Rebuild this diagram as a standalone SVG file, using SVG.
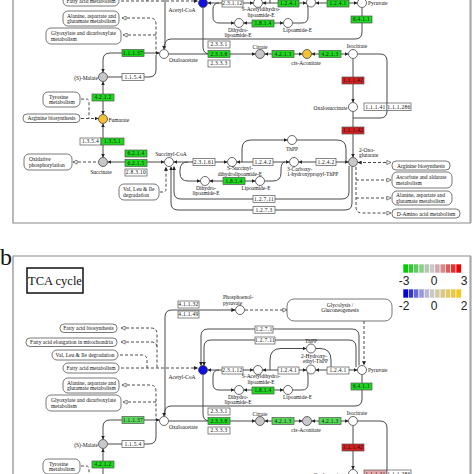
<svg xmlns="http://www.w3.org/2000/svg" width="474" height="474" viewBox="0 0 474 474">
<style>
.ln{fill:none;stroke:#4a4a4a;stroke-width:1}
.ds{fill:none;stroke:#4a4a4a;stroke-width:1;stroke-dasharray:3 2}
.c{stroke:#444;stroke-width:.8;fill:#fff}
.cg{fill:#c8c8c8}
.bx{stroke:#555;stroke-width:.7;fill:#fff}
.gr{fill:#1ed81e}
.rd{fill:#d42020}
.mp{fill:#fff;stroke:#555;stroke-width:.8}
.t{font-family:"Liberation Serif","DejaVu Serif",serif;font-size:5.5px;fill:#111}
.e{font-family:"Liberation Serif","DejaVu Serif",serif;font-size:5.5px;fill:#111;text-anchor:middle;letter-spacing:.3px}
.m{text-anchor:middle}
.r{text-anchor:end}
.lg{font-family:"Liberation Sans","DejaVu Sans",sans-serif;font-size:12px;fill:#222;text-anchor:middle}
</style>
<defs>
<marker id="ah" viewBox="0 0 6 6" refX="5.5" refY="3" markerWidth="4" markerHeight="4" markerUnits="userSpaceOnUse" orient="auto-start-reverse"><path d="M0,0L6,3L0,6z" fill="#222"/></marker>
<marker id="oh" viewBox="0 0 6 6" refX="5.5" refY="3" markerWidth="5" markerHeight="5" markerUnits="userSpaceOnUse" orient="auto-start-reverse"><path d="M0.5,0.5L5.5,3L0.5,5.5z" fill="#fff" stroke="#444" stroke-width=".8"/></marker>
<clipPath id="clipA"><rect x="13" y="0" width="458" height="223"/></clipPath>
<clipPath id="clipB"><rect x="13" y="256" width="458" height="218"/></clipPath>
<g id="pathway">
<g id="connectors">
<path class="ln" d="M165,415.5V317Q165,310 172,310H235" marker-end="url(#ah)"/>
<path class="ds" d="M245,310H287" marker-end="url(#oh)"/>
<path class="ds" d="M364,321V365" marker-end="url(#ah)"/>
<path class="ln" d="M359,365.5V336Q359,329 352,329H208Q201,329 201,336V365.5" marker-end="url(#ah)"/>
<path class="ln" d="M356,367V347Q356,340 349,340H211Q204,340 204,347V365.5" marker-end="url(#ah)"/>
<path class="ds" d="M121,328H151Q157,328 157,334V368" marker-start="url(#oh)"/>
<path class="ds" d="M121,342H151Q157,342 157,348" marker-start="url(#oh)"/>
<path class="ds" d="M120,355H142Q147,355 147,360V368"/>
<path class="ds" d="M121,368H197.5" marker-end="url(#ah)"/>
<path class="ds" d="M122,385H150Q156,385 156,391V420" marker-start="url(#oh)"/>
<path class="ds" d="M123,402H156" marker-start="url(#oh)"/>
<path class="ln" d="M103,439.2V427Q103,420 110,420H159.3" marker-start="url(#ah)" marker-end="url(#ah)"/>
<path class="ln" d="M107.8,444H149Q156,444 156,437V422"/>
<path class="ln" d="M103,448.8V481.2" marker-start="url(#ah)" marker-end="url(#ah)"/>
<path class="ln" d="M103,490.8V524.2" marker-start="url(#ah)" marker-end="url(#ah)"/>
<path class="ln" d="M107.8,529H164.2" marker-start="url(#ah)" marker-end="url(#ah)"/>
<path class="ln" d="M169,421H255.2" marker-end="url(#ah)"/>
<path class="ln" d="M203,374.8V414Q203,421 210,421"/>
<path class="ln" d="M264.8,421H302.2" marker-start="url(#ah)" marker-end="url(#ah)"/>
<path class="ln" d="M311.8,421H348.2" marker-start="url(#ah)" marker-end="url(#ah)"/>
<path class="ln" d="M362,374.8V399Q362,406 355,406H171Q164,406 164,416.2" marker-end="url(#ah)"/>
<path class="ln" d="M353,425.8V469.2" marker-end="url(#ah)"/>
<path class="ln" d="M353,478.8V524.2" marker-end="url(#ah)"/>
<path class="ln" d="M357.8,421H380Q387,421 387,428V478Q387,485 380,485H353"/>
<path class="ln" d="M349,533V559Q349,566 342,566H181Q174,566 174,559V533.5" marker-end="url(#ah)"/>
<path class="ln" d="M352,533.8V570Q352,577 345,577H178Q171,577 171,570V533.8" marker-end="url(#ah)"/>
<path class="ds" d="M358,529.5H391" marker-start="url(#ah)" marker-end="url(#oh)"/>
<path class="ds" d="M356,534V574Q356,580 362,580H391" marker-end="url(#oh)"/>
<path class="ds" d="M356,547H391" marker-end="url(#oh)"/>
<path class="ds" d="M356,565H391" marker-end="url(#oh)"/>
<path class="ln" d="M173.8,529H227.2" marker-start="url(#ah)" marker-end="url(#ah)"/>
<path class="ln" d="M236.8,529H289.2" marker-start="url(#ah)" marker-end="url(#ah)"/>
<path class="ln" d="M298.8,529H348.2" marker-start="url(#ah)" marker-end="url(#ah)"/>
<path class="ln" d="M242,529V516Q242,507 251,507H287.2" marker-end="url(#ah)"/>
<path class="ln" d="M296.8,507H337Q346,507 346,516V529"/>
<path class="ln" d="M188,529Q180,529 180,537V540Q180,548 188,548H200.2" marker-end="url(#ah)"/>
<path class="ln" d="M264.8,548H273Q281,548 281,540V537Q281,529 285,529"/>
<path class="ln" d="M209.8,548H255.2" marker-start="url(#ah)" marker-end="url(#ah)"/>
<path class="ln" d="M207.8,370H253.2" marker-start="url(#ah)" marker-end="url(#ah)"/>
<path class="ln" d="M262.8,370H306.2" marker-start="url(#ah)" marker-end="url(#ah)"/>
<path class="ln" d="M315.8,370H357.2" marker-start="url(#ah)" marker-end="url(#ah)"/>
<path class="ln" d="M270,370V360Q270,348.5 281,348.5H306.2" marker-end="url(#ah)"/>
<path class="ln" d="M315.8,348.5H320Q331,348.5 331,360V370"/>
<path class="ln" d="M219,370Q213,370 213,376V384Q213,390 219,390H234.2" marker-end="url(#ah)"/>
<path class="ln" d="M292.8,390H302Q308,390 308,384V376Q308,370 306,370"/>
<path class="ln" d="M243.8,390H283.2" marker-start="url(#ah)" marker-end="url(#ah)"/>
<path class="ds" d="M81,466H86Q89,466 89,469V485.5"/>
<path class="ds" d="M81,485.5H98.2" marker-end="url(#ah)"/>
<path class="ds" d="M73,529H98.2" marker-start="url(#oh)"/>
<path class="ds" d="M160,559H163Q166,559 166,556V534" marker-end="url(#ah)"/>
</g>
<g id="maps">
<g id="m-glycolysis"><rect class="mp" x="287" y="299" width="105" height="22" rx="7"/><text class="t m" x="340" y="306.5">Glycolysis /</text><text class="t m" x="340" y="312">Gluconeogenesis</text></g>
<g id="m-fa-bio"><rect class="mp" x="60" y="324" width="57" height="8.5" rx="4"/><text class="t m" x="88.5" y="330.2">Fatty acid biosynthesis</text></g>
<g id="m-fa-elong"><rect class="mp" x="26" y="338" width="91" height="8.5" rx="4"/><text class="t m" x="71.5" y="344.2">Fatty acid elongation in mitochondria</text></g>
<g id="m-val1"><rect class="mp" x="52" y="350" width="66" height="10" rx="5"/><text class="t m" x="85" y="357">Val, Leu &amp; Ile degradation</text></g>
<g id="m-fa-met"><rect class="mp" x="63" y="363" width="56" height="10" rx="5"/><text class="t m" x="91" y="370">Fatty acid metabolism</text></g>
<g id="m-ala1"><rect class="mp" x="63" y="378" width="56" height="15" rx="5"/><text class="t" x="67" y="384.5">Alanine, aspartate and</text><text class="t" x="67" y="390">glutamate metabolism</text></g>
<g id="m-glyox"><rect class="mp" x="46" y="395" width="75" height="16" rx="5"/><text class="t" x="51" y="402">Glyoxylate and dicarboxylate</text><text class="t" x="51" y="407.5">metabolism</text></g>
<g id="m-tyr"><rect class="mp" x="43" y="459" width="37" height="15" rx="5"/><text class="t" x="49" y="465.5">Tyrosine</text><text class="t" x="49" y="471">metabolism</text></g>
<g id="m-arg1"><rect class="mp" x="23" y="481" width="57" height="8.5" rx="4"/><text class="t m" x="51.5" y="487.2">Arginine biosynthesis</text></g>
<g id="m-oxphos"><rect class="mp" x="24" y="521" width="48" height="16" rx="5"/><text class="t" x="29" y="528">Oxidative</text><text class="t" x="29" y="533.5">phosphorylation</text></g>
<g id="m-val2"><rect class="mp" x="119" y="551" width="40" height="16" rx="5"/><text class="t" x="123" y="558">Val, Leu &amp; Ile</text><text class="t" x="123" y="563.5">degradation</text></g>
<g id="m-arg2"><rect class="mp" x="392" y="528" width="58" height="9" rx="4"/><text class="t m" x="421" y="534.5">Arginine biosynthesis</text></g>
<g id="m-asc"><rect class="mp" x="392" y="539" width="60" height="16" rx="5"/><text class="t" x="396" y="546">Ascorbate and aldarate</text><text class="t" x="396" y="551.5">metabolism</text></g>
<g id="m-ala2"><rect class="mp" x="392" y="558" width="60" height="14" rx="5"/><text class="t" x="396" y="564">Alanine, aspartate and</text><text class="t" x="396" y="569.5">glutamate metabolism</text></g>
<g id="m-damino"><rect class="mp" x="392" y="576" width="68" height="9" rx="4"/><text class="t m" x="426" y="582.5">D-Amino acid metabolism</text></g>
</g>
<g id="enzymes">
<g id="e-41132"><rect class="bx" x="178" y="301" width="21" height="7"/><text class="e" x="188.5" y="306.4">4.1.1.32</text></g>
<g id="e-41149"><rect class="bx" x="178" y="311" width="21" height="7"/><text class="e" x="188.5" y="316.4">4.1.1.49</text></g>
<g id="e-1271"><rect class="bx" x="255" y="326" width="18" height="7"/><text class="e" x="264" y="331.4">1.2.7.1</text></g>
<g id="e-12711a"><rect class="bx" x="255" y="337" width="20" height="7"/><text class="e" x="265" y="342.4">1.2.7.11</text></g>
<g id="e-23112"><rect class="bx" x="222" y="367" width="21" height="7"/><text class="e" x="232.5" y="372.4">2.3.1.12</text></g>
<g id="e-1241a"><rect class="bx" x="278" y="367" width="21" height="7" style="fill:var(--k1241,#fff)"/><text class="e" x="288.5" y="372.4">1.2.4.1</text></g>
<g id="e-1241b"><rect class="bx" x="327" y="367" width="22" height="7" style="fill:var(--k1241,#fff)"/><text class="e" x="338" y="372.4">1.2.4.1</text></g>
<g id="e-1814a"><rect class="bx gr" x="252" y="387" width="22" height="7"/><text class="e" x="263" y="392.4">1.8.1.4</text></g>
<g id="e-6411"><rect class="bx gr" x="351" y="383" width="21" height="7"/><text class="e" x="361.5" y="388.4">6.4.1.1</text></g>
<g id="e-2331"><rect class="bx" x="208" y="408" width="22" height="7"/><text class="e" x="219" y="413.4">2.3.3.1</text></g>
<g id="e-2338"><rect class="bx gr" x="208" y="417.5" width="22" height="7"/><text class="e" x="219" y="422.9">2.3.3.8</text></g>
<g id="e-2333"><rect class="bx" x="208" y="427" width="22" height="7"/><text class="e" x="219" y="432.4">2.3.3.3</text></g>
<g id="e-4213a"><rect class="bx" x="272" y="417.5" width="22" height="7" style="fill:var(--k4213,#1ed81e)"/><text class="e" x="283" y="422.9">4.2.1.3</text></g>
<g id="e-4213b"><rect class="bx" x="319" y="417.5" width="22" height="7" style="fill:var(--k4213,#1ed81e)"/><text class="e" x="330" y="422.9">4.2.1.3</text></g>
<g id="e-11137"><rect class="bx" x="122" y="416.5" width="22" height="7" style="fill:var(--k11137,#1ed81e)"/><text class="e" x="133" y="421.9">1.1.1.37</text></g>
<g id="e-1154"><rect class="bx" x="122" y="440.5" width="22" height="7"/><text class="e" x="133" y="445.9">1.1.5.4</text></g>
<g id="e-4212"><rect class="bx gr" x="92" y="461" width="22" height="7"/><text class="e" x="103" y="466.4">4.2.1.2</text></g>
<g id="e-11142a"><rect class="bx rd" x="342" y="444" width="22" height="7"/><text class="e" x="353" y="449.4">1.1.1.42</text></g>
<g id="e-11141"><rect class="bx" x="364" y="470" width="23" height="7.5" style="fill:var(--k11141,#fff)"/><text class="e" x="375.5" y="475.6">1.1.1.41</text></g>
<g id="e-111286"><rect class="bx" x="387" y="470" width="24" height="7.5"/><text class="e" x="399" y="475.6">1.1.1.286</text></g>
<g id="e-11142b"><rect class="bx rd" x="342" y="494" width="22" height="7"/><text class="e" x="353" y="499.4">1.1.1.42</text></g>
<g id="e-1354"><rect class="bx" x="80" y="505" width="21" height="7"/><text class="e" x="90.5" y="510.4">1.3.5.4</text></g>
<g id="e-1351"><rect class="bx gr" x="101" y="505" width="23" height="7"/><text class="e" x="112.5" y="510.4">1.3.5.1</text></g>
<g id="e-6214"><rect class="bx gr" x="125" y="517" width="22" height="7"/><text class="e" x="136" y="522.4">6.2.1.4</text></g>
<g id="e-6215"><rect class="bx gr" x="125" y="526.5" width="22" height="7"/><text class="e" x="136" y="531.9">6.2.1.5</text></g>
<g id="e-28310"><rect class="bx" x="125" y="536" width="22" height="7"/><text class="e" x="136" y="541.4">2.8.3.10</text></g>
<g id="e-23161"><rect class="bx" x="193" y="525.5" width="22" height="7"/><text class="e" x="204" y="530.9">2.3.1.61</text></g>
<g id="e-1242a"><rect class="bx" x="253" y="525.5" width="20" height="7"/><text class="e" x="263" y="530.9">1.2.4.2</text></g>
<g id="e-1242b"><rect class="bx" x="316" y="525.5" width="20" height="7"/><text class="e" x="326" y="530.9">1.2.4.2</text></g>
<g id="e-1814b"><rect class="bx gr" x="223" y="544.5" width="22" height="7"/><text class="e" x="234" y="549.9">1.8.1.4</text></g>
<g id="e-12711b"><rect class="bx" x="253" y="562.5" width="22" height="7"/><text class="e" x="264" y="567.9">1.2.7.11</text></g>
<g id="e-1273"><rect class="bx" x="253" y="573.5" width="22" height="7"/><text class="e" x="264" y="578.9">1.2.7.3</text></g>
</g>
<g id="compounds">
<g id="n-pep"><circle class="c" cx="240" cy="310" r="4.5"/><text class="t" x="223" y="299">Phosphoenol-</text><text class="t" x="223" y="304.5">pyruvate</text></g>
<g id="n-pyruvate"><circle class="c" cx="362" cy="370" r="4.5"/><text class="t" x="368" y="372">Pyruvate</text></g>
<g id="n-acetylcoa"><circle class="c" cx="203" cy="370" r="4.5" style="fill:#1010e0"/><text class="t m" x="182" y="378.5">Acetyl-CoA</text></g>
<g id="n-sacetyl"><circle class="c" cx="258" cy="370" r="4.5"/><text class="t m" x="261" y="378">S-Acetyldihydro-</text><text class="t m" x="261" y="383.5">lipoamide-E</text></g>
<g id="n-hydroxyethyl"><circle class="c" cx="311" cy="369.5" r="4.5"/><text class="t" x="301" y="358">2-Hydroxy-</text><text class="t" x="303" y="363.3">ethyl-ThPP</text></g>
<g id="n-thpp1"><circle class="c" cx="311" cy="348.5" r="4.5"/><text class="t m" x="311" y="343">ThPP</text></g>
<g id="n-dihydro1"><circle class="c" cx="239" cy="390" r="4.5"/><text class="t m" x="238" y="398.5">Dihydro-</text><text class="t m" x="238" y="404">lipoamide-E</text></g>
<g id="n-lipo1"><circle class="c" cx="288" cy="390" r="4.5"/><text class="t" x="283" y="398.5">Lipoamide-E</text></g>
<g id="n-oxaloacetate"><circle class="c" cx="164" cy="421" r="4.5"/><text class="t" x="169" y="429">Oxaloacetate</text></g>
<g id="n-citrate"><circle class="c cg" cx="260" cy="421" r="4.5"/><text class="t m" x="260" y="415.5">Citrate</text></g>
<g id="n-cisaconitate"><circle class="c" cx="307" cy="421" r="4.5" style="fill:var(--kcis,#c8c8c8)"/><text class="t m" x="306" y="431.5">cis-Aconitate</text></g>
<g id="n-isocitrate"><circle class="c" cx="353" cy="421" r="4.5"/><text class="t m" x="357" y="415">Isocitrate</text></g>
<g id="n-oxalosuccinate"><circle class="c" cx="353" cy="474" r="4.5"/><text class="t r" x="347.5" y="476.5">Oxalosuccinate</text></g>
<g id="n-oxoglutarate"><circle class="c cg" cx="353" cy="529" r="4.5"/><text class="t" x="359" y="518.5">2-Oxo-</text><text class="t" x="359" y="524">glutarate</text></g>
<g id="n-succinylcoa"><circle class="c" cx="169" cy="529" r="4.5"/><text class="t m" x="171" y="523">Succinyl-CoA</text></g>
<g id="n-ssuccinyl"><circle class="c" cx="232" cy="529" r="4.5"/><text class="t m" x="240" y="537">S-Succinyl-</text><text class="t m" x="240" y="542.5">dihydrolipoamide-E</text></g>
<g id="n-carboxy"><circle class="c" cx="294" cy="529" r="4.5"/><text class="t" x="287" y="537.5">3-Carboxy-</text><text class="t" x="287" y="543">1-hydroxypropyl-ThPP</text></g>
<g id="n-thpp2"><circle class="c" cx="292" cy="507" r="4.5"/><text class="t m" x="292" y="517.5">ThPP</text></g>
<g id="n-dihydro2"><circle class="c" cx="205" cy="548" r="4.5"/><text class="t m" x="206" y="556.5">Dihydro-</text><text class="t m" x="206" y="562">lipoamide-E</text></g>
<g id="n-lipo2"><circle class="c" cx="260" cy="548" r="4.5"/><text class="t m" x="256" y="557">Lipoamide-E</text></g>
<g id="n-succinate"><circle class="c cg" cx="103" cy="529" r="4.5"/><text class="t m" x="101" y="541">Succinate</text></g>
<g id="n-fumarate"><circle class="c" cx="103" cy="486" r="4.5" style="fill:#f2c232"/><text class="t" x="108.5" y="489">Fumarate</text></g>
<g id="n-malate"><circle class="c cg" cx="103" cy="444" r="4.5"/><text class="t r" x="98" y="446.5">(S)-Malate</text></g>
</g>
</g>
</defs>
<rect width="474" height="474" fill="#fff"/>
<g id="panel-a" clip-path="url(#clipA)">
<use href="#pathway" transform="translate(0,-367)" style="--k1241:#1ed81e;--kcis:#f2c232;--k11141:#fff;--k11137:#14d414;--k4213:#1ed81e"/>
</g>
<g id="frame-a" fill="none">
<path d="M13,0V223H471" stroke="#8a8a8a" stroke-width="1.2"/>
<path d="M470.5,0V223" stroke="#a8a8a8" stroke-width="2.2"/>
</g>
<g id="panel-b" clip-path="url(#clipB)">
<use href="#pathway" style="--k1241:#fff;--kcis:#c8c8c8;--k11141:#e8aaaa;--k11137:#5cd85c;--k4213:#55d855"/>
</g>
<g id="frame-b" fill="none">
<path d="M13,474V256H471" stroke="#8a8a8a" stroke-width="1.2"/>
<path d="M470.5,256V474" stroke="#a8a8a8" stroke-width="2.2"/>
</g>
<text x="0" y="265" font-family="Liberation Serif, serif" font-size="24" fill="#111">b</text>
<g id="title">
<rect x="27" y="268" width="56" height="25" fill="#fff" stroke="#111" stroke-width="1.5"/>
<text x="55" y="285" font-family="Liberation Serif, serif" font-size="12.5" text-anchor="middle" fill="#111">TCA cycle</text>
</g>
<g id="legend" stroke="#fff" stroke-width="0.6">
<rect x="403" y="264" width="5.3" height="9" fill="#00cc00"/>
<rect x="408.3" y="264" width="5.3" height="9" fill="#2ccc2c"/>
<rect x="413.6" y="264" width="5.3" height="9" fill="#5ccc5c"/>
<rect x="418.9" y="264" width="5.3" height="9" fill="#8ccc8c"/>
<rect x="424.2" y="264" width="5.3" height="9" fill="#b4c8b4"/>
<rect x="429.5" y="264" width="5.3" height="9" fill="#c8c8c8"/>
<rect x="434.8" y="264" width="5.3" height="9" fill="#d0aaaa"/>
<rect x="440.1" y="264" width="5.3" height="9" fill="#d88888"/>
<rect x="445.4" y="264" width="5.3" height="9" fill="#e05a5a"/>
<rect x="450.7" y="264" width="5.3" height="9" fill="#e83030"/>
<rect x="456" y="264" width="5.3" height="9" fill="#f00000"/>
<rect x="403" y="289" width="5.3" height="9" fill="#0000dd"/>
<rect x="408.3" y="289" width="5.3" height="9" fill="#3434dd"/>
<rect x="413.6" y="289" width="5.3" height="9" fill="#6868dd"/>
<rect x="418.9" y="289" width="5.3" height="9" fill="#9898d8"/>
<rect x="424.2" y="289" width="5.3" height="9" fill="#b8b8d0"/>
<rect x="429.5" y="289" width="5.3" height="9" fill="#c8c8c8"/>
<rect x="434.8" y="289" width="5.3" height="9" fill="#d2caa4"/>
<rect x="440.1" y="289" width="5.3" height="9" fill="#dac888"/>
<rect x="445.4" y="289" width="5.3" height="9" fill="#e2c866"/>
<rect x="450.7" y="289" width="5.3" height="9" fill="#eac844"/>
<rect x="456" y="289" width="5.3" height="9" fill="#f2c820"/>
<g stroke="none">
<text class="lg" x="404" y="285">-3</text><text class="lg" x="434" y="285">0</text><text class="lg" x="464" y="285">3</text>
<text class="lg" x="404" y="310">-2</text><text class="lg" x="434" y="310">0</text><text class="lg" x="464" y="310">2</text>
</g>
</g>
</svg>
